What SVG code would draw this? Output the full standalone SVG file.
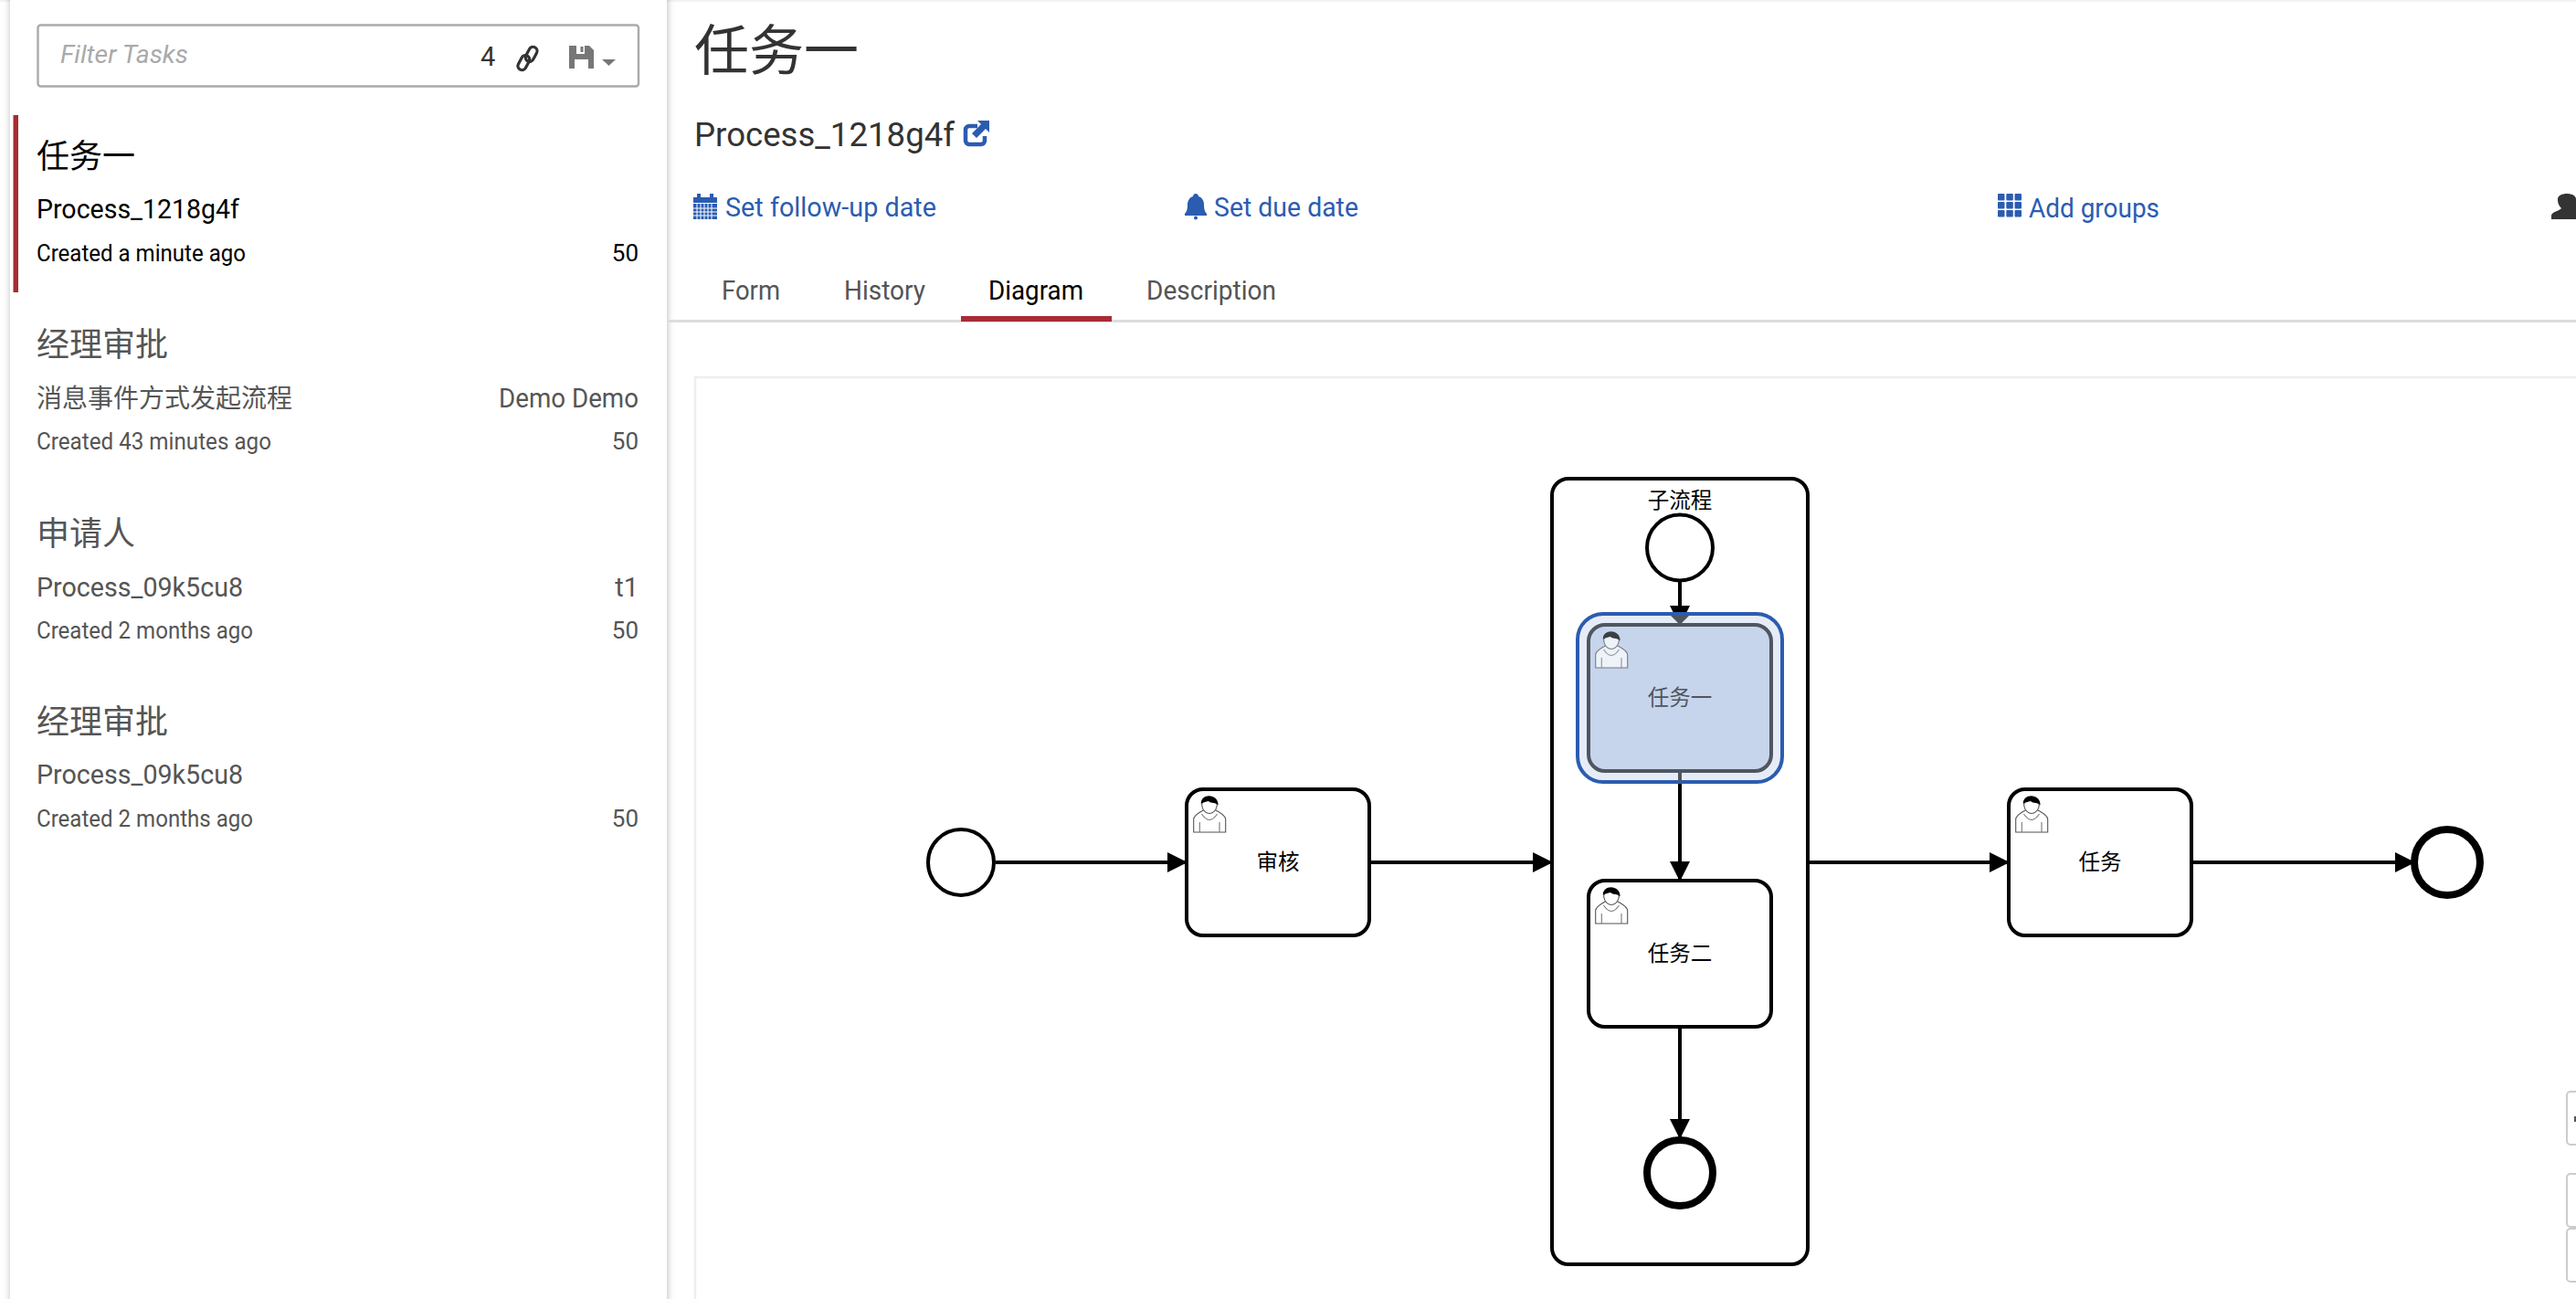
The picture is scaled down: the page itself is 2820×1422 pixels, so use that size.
<svg xmlns="http://www.w3.org/2000/svg" width="2820" height="1422" viewBox="0 0 2820 1422">
<style>
text{font-family:"Roboto","Noto Sans CJK SC",sans-serif;}
.cjk{font-family:"Noto Sans CJK SC",sans-serif;}
.d{fill:#555}.k{fill:#000}.m{fill:#333}.b{fill:#2b5cb0}
.s28{font-size:29px}.s25{font-size:26px}.s36{font-size:36px}
.c28{font-size:28px}
.end{text-anchor:end}
.lbl{font-size:23.5px;text-anchor:middle;fill:#000;font-family:"Noto Sans CJK SC",sans-serif}
.task{fill:#fff;stroke:#000;stroke-width:4}
.flow{stroke:#000;stroke-width:4;fill:none}
.ub{fill:#fff;stroke:#555;stroke-width:1.1}
.ul{stroke:#777;stroke-width:1.1;fill:none}
.ctrl{fill:#fff;stroke:#ccc;stroke-width:2}
</style>
<defs>
<filter id="sh" x="-5%" y="-5%" width="110%" height="110%"><feGaussianBlur stdDeviation="4"/></filter>
<marker id="arr" markerUnits="userSpaceOnUse" markerWidth="23" markerHeight="24" refX="21" refY="12" orient="auto"><path d="M0,1 L22,12 L0,23 Z" fill="#000"/></marker>
<g id="user">
<path class="ub" d="M7.7,47 V32.7 Q8,29 16,24.3 L20,22 H30 L34.3,24.3 Q42.4,29 42.7,32.7 V47 Z"/>
<path class="ul" d="M16.5,27 Q25,40 33.5,27 M14.3,36 V47 M36,36 V47"/>
<path class="ub" d="M17,19 C14,8 36,8 33,19 C32,24 28,26.5 25,26.5 C22,26.5 18,24 17,19 Z"/>
<path d="M15.8,16 C15,4 35,4 34.6,17.5 C32,14 27,16 24,13 C21,14 18,14 15.8,16 Z" fill="#000"/>
</g>
</defs>
<rect width="2820" height="1422" fill="#fff"/>
<rect x="0" y="0" width="2820" height="2" fill="#f2f2f2"/>

<g id="sidebar">
<rect x="12" y="-20" width="718" height="1470" fill="#000" fill-opacity=".3" filter="url(#sh)"/>
<rect x="11" y="-20" width="719" height="1470" fill="#fff"/>
<g id="filter-box">
<rect x="41.5" y="27.5" width="657.5" height="67" rx="3" fill="#fff" stroke="#aaa" stroke-width="2.4"/>
<text x="66" y="69" font-size="28" font-style="italic" fill="#aaa" textLength="140" lengthAdjust="spacingAndGlyphs">Filter Tasks</text>
<text x="526" y="72" class="s28 m">4</text>
<g transform="translate(577.5,64) rotate(-62)" fill="none" stroke="#333" stroke-width="3.2"><rect x="-14.5" y="-6" width="17" height="9" rx="4.5"/><rect x="-2.5" y="-3" width="17" height="9" rx="4.5"/></g>
<path d="M623,50 H645 L650,55 V75 H623 Z" fill="#777"/>
<rect x="631" y="50" width="9" height="9" fill="#fff"/><rect x="635.5" y="51" width="3" height="6" fill="#777"/><rect x="629" y="65" width="15" height="10" fill="#fff"/>
<path d="M659,65 H674 L666.5,72 Z" fill="#777"/>
</g>
<g id="item-1">
<rect x="14.5" y="126" width="5.5" height="194" fill="#a62b35"/>
<text x="40" y="184" class="cjk s36 k">任务一</text>
<text x="40" y="239" class="s28 k" textLength="222" lengthAdjust="spacingAndGlyphs">Process_1218g4f</text>
<text x="40" y="286" class="s25 k" textLength="229" lengthAdjust="spacingAndGlyphs">Created a minute ago</text>
<text x="699" y="286" class="s25 k end">50</text>
</g>
<g id="item-2">
<text x="40" y="390" class="cjk s36 d">经理审批</text>
<text x="40" y="446" class="cjk c28 d">消息事件方式发起流程</text>
<text x="699" y="446" class="s28 d end" textLength="153" lengthAdjust="spacingAndGlyphs">Demo Demo</text>
<text x="40" y="492" class="s25 d" textLength="257" lengthAdjust="spacingAndGlyphs">Created 43 minutes ago</text>
<text x="699" y="492" class="s25 d end">50</text>
</g>
<g id="item-3">
<text x="40" y="597" class="cjk s36 d">申请人</text>
<text x="40" y="653" class="s28 d" textLength="226" lengthAdjust="spacingAndGlyphs">Process_09k5cu8</text>
<text x="699" y="653" class="s28 d end">t1</text>
<text x="40" y="699" class="s25 d" textLength="237" lengthAdjust="spacingAndGlyphs">Created 2 months ago</text>
<text x="699" y="699" class="s25 d end">50</text>
</g>
<g id="item-4">
<text x="40" y="803" class="cjk s36 d">经理审批</text>
<text x="40" y="858" class="s28 d" textLength="226" lengthAdjust="spacingAndGlyphs">Process_09k5cu8</text>
<text x="40" y="905" class="s25 d" textLength="237" lengthAdjust="spacingAndGlyphs">Created 2 months ago</text>
<text x="699" y="905" class="s25 d end">50</text>
</g>
</g>

<g id="header">
<text x="760" y="77" class="cjk m" font-size="60">任务一</text>
<text x="760" y="160" class="m" font-size="37" textLength="285" lengthAdjust="spacingAndGlyphs">Process_1218g4f</text>
<g id="ext-link"><path d="M1070,138 H1061 a4,4 0 0 0 -4,4 V154 a4,4 0 0 0 4,4 H1074 a4,4 0 0 0 4,-4 V149" fill="none" stroke="#2b5cb0" stroke-width="4.5"/><path d="M1070,132 H1083 V145 L1079,141 L1069,151 L1064,146 L1074,136 Z" class="b"/></g>
<g id="follow-up"><path d="M759,216 H763 V212 H767 V216 H777 V212 H781 V216 H785 V222 H759 Z" class="b"/><rect x="759" y="223" width="26" height="17" class="b"/><path d="M759,228 H785 M759,232 H785 M759,236 H785 M763,223 V240 M767,223 V240 M771,223 V240 M775,223 V240 M779,223 V240" stroke="#fff" stroke-width="1"/>
<text x="794" y="237" class="s28 b" textLength="231" lengthAdjust="spacingAndGlyphs">Set follow-up date</text></g>
<g id="due-date"><path d="M1309,212 c2,0 3,1.5 3,3 c4,1 6,5 6,9 c0,5 1,8 3,10 v2 h-24 v-2 c2,-2 3,-5 3,-10 c0,-4 2,-8 6,-9 c0,-1.5 1,-3 3,-3z" class="b"/><circle cx="1309" cy="238.5" r="2" class="b"/>
<text x="1329" y="237" class="s28 b" textLength="158" lengthAdjust="spacingAndGlyphs">Set due date</text></g>
<g id="groups"><g class="b"><rect x="2187" y="212" width="7.5" height="7.5" rx="1"/><rect x="2196.3" y="212" width="7.5" height="7.5" rx="1"/><rect x="2205.5" y="212" width="7.5" height="7.5" rx="1"/><rect x="2187" y="221" width="7.5" height="7.5" rx="1"/><rect x="2196.3" y="221" width="7.5" height="7.5" rx="1"/><rect x="2205.5" y="221" width="7.5" height="7.5" rx="1"/><rect x="2187" y="230" width="7.5" height="7.5" rx="1"/><rect x="2196.3" y="230" width="7.5" height="7.5" rx="1"/><rect x="2205.5" y="230" width="7.5" height="7.5" rx="1"/></g>
<text x="2221" y="238" class="s28 b" textLength="143" lengthAdjust="spacingAndGlyphs">Add groups</text></g>
<path id="assignee" d="M2793,240 V236 C2793,232 2802,231 2804,228 C2800,224 2800,220 2800,218 C2800,214 2805,212 2810,212 C2815,212 2820,214 2820,218 V240 Z" fill="#333"/>
</g>

<g id="tabs">
<rect x="730" y="350" width="2090" height="3" fill="#ddd"/>
<rect x="1052" y="346" width="165" height="6" fill="#a62b35"/>
<text x="790" y="328" class="s28 d" textLength="64" lengthAdjust="spacingAndGlyphs">Form</text>
<text x="924" y="328" class="s28 d" textLength="89" lengthAdjust="spacingAndGlyphs">History</text>
<text x="1082" y="328" class="s28 k" textLength="104" lengthAdjust="spacingAndGlyphs">Diagram</text>
<text x="1255" y="328" class="s28 d" textLength="142" lengthAdjust="spacingAndGlyphs">Description</text>
</g>

<path id="canvas" d="M761,1430 V413 H2830" fill="none" stroke="#eee" stroke-width="2.5"/>

<g id="subprocess"><rect x="1699" y="524" width="280" height="860" rx="18" fill="#fff" stroke="#000" stroke-width="4"/>
<text x="1839" y="556" class="lbl">子流程</text></g>

<g id="connectors">
<path class="flow" marker-end="url(#arr)" d="M1090,944 H1299"/>
<path class="flow" marker-end="url(#arr)" d="M1499,944 H1699"/>
<path class="flow" marker-end="url(#arr)" d="M1979,944 H2199"/>
<path class="flow" marker-end="url(#arr)" d="M2399,944 H2643"/>
<path class="flow" marker-end="url(#arr)" d="M1839,636 V684"/>
<path class="flow" marker-end="url(#arr)" d="M1839,844 V964"/>
<path class="flow" marker-end="url(#arr)" d="M1839,1124 V1246"/>
</g>

<g id="start"><circle cx="1052" cy="944" r="36" fill="#fff" stroke="#000" stroke-width="4"/></g>
<g id="task-review" transform="translate(1299,864)"><rect class="task" width="200" height="160" rx="18"/><use href="#user"/><text x="100" y="87.5" class="lbl">审核</text></g>

<g id="sub-start"><circle cx="1839" cy="599.5" r="36" fill="#fff" stroke="#000" stroke-width="4"/></g>
<g id="task-one">
<rect x="1727" y="672" width="224" height="184" rx="28" fill="#e6ecf7" stroke="#2b5cb0" stroke-width="4"/>
<path d="M1839,684 L1829,674 H1849 Z" fill="#50565f"/>
<rect x="1837" y="844" width="4" height="11" fill="#50565f"/>
<rect x="1739" y="684" width="200" height="160" rx="18" fill="#c6d5ec" stroke="#50565f" stroke-width="4"/>
<g transform="translate(1739,684)" opacity=".7"><use href="#user"/></g>
<text x="1839" y="771.5" class="lbl" style="fill:#50565f">任务一</text>
</g>
<g id="task-two" transform="translate(1739,964)"><rect class="task" width="200" height="160" rx="18"/><use href="#user"/><text x="100" y="87.5" class="lbl">任务二</text></g>
<g id="sub-end"><circle cx="1839" cy="1284" r="36" fill="#fff" stroke="#000" stroke-width="8"/></g>
<g id="task-last" transform="translate(2199,864)"><rect class="task" width="200" height="160" rx="18"/><use href="#user"/><text x="100" y="87.5" class="lbl">任务</text></g>
<g id="end"><circle cx="2679" cy="944" r="36" fill="#fff" stroke="#000" stroke-width="8"/></g>

<g id="zoom-controls">
<rect class="ctrl" x="2810" y="1195" width="30" height="58" rx="4"/>
<rect x="2818" y="1222" width="2" height="6" fill="#555"/>
<rect class="ctrl" x="2810" y="1285" width="30" height="58" rx="4"/>
<rect class="ctrl" x="2810" y="1345" width="30" height="58" rx="4"/>
</g>
</svg>
